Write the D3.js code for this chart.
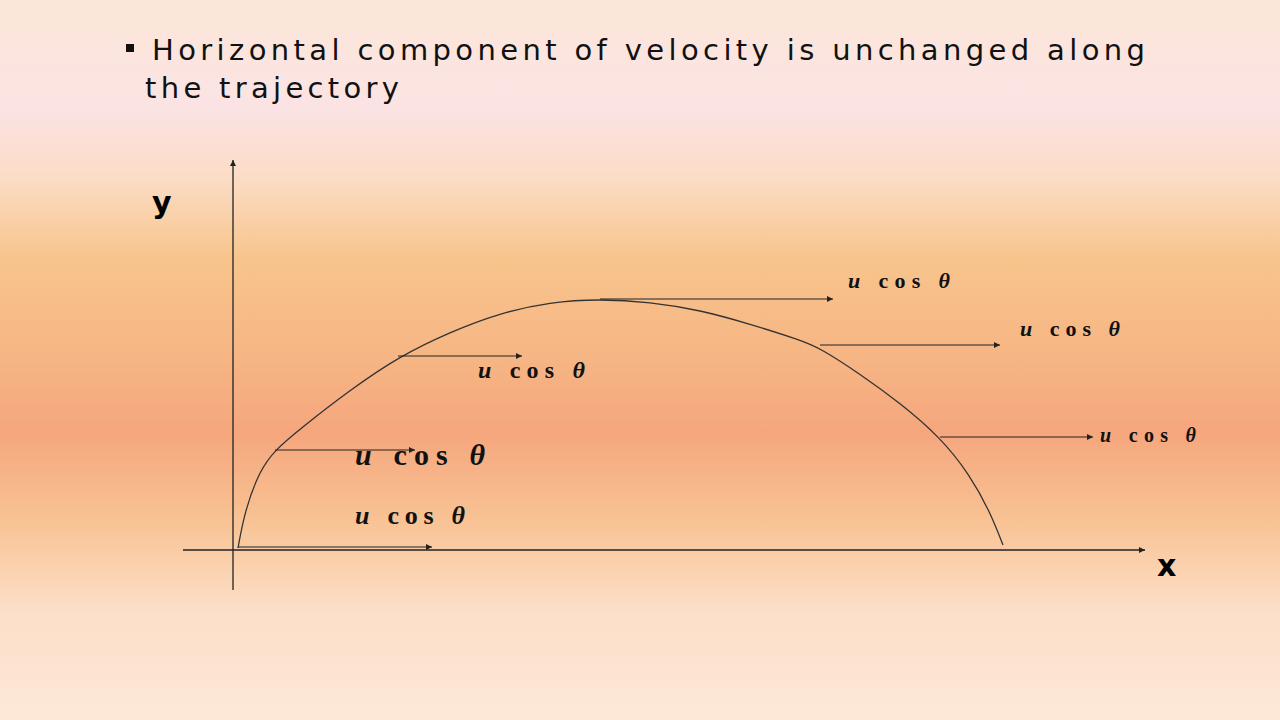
<!DOCTYPE html>
<html><head><meta charset="utf-8">
<script src="https://cdn.jsdelivr.net/npm/d3@7"></script>
<style>body{margin:0;overflow:hidden}</style>
</head><body>
<svg id="chart" width="1280" height="720"></svg>
<script>
// trajectory, in axis units (x right of origin, y above x axis)
var pathX = [5,12,27,42,67,117,167,217,267,317,367,417,467,517,567,587,627,667,707,737,757,770];
var pathY = [2,40,80,100,121,160,194,218,237,248,251,248,240,226,210,202,176,147,113,75,38,5];
// velocity arrows: start point and length
var arrowX = [5,42,165,367,587,707];
var arrowY = [3,100,194,251,205,113];
var arrowLen = [194,140,124,233,180,153];
// labels
var labelX = [122,122,245,615,787,867];
var labelY = [26,85,172,262,214,108];
var labelSize = [26,30,24,22,22,20];
var labelWidth = [110,130,107,102,100,96];
var stops = [
  [0,"#fbe7d8"],[0.15,"#fbe3e4"],[0.25,"#fbdcc4"],[0.36,"#f8c48c"],
  [0.5,"#f6b584"],[0.6,"#f5a67d"],[0.72,"#f8c293"],[0.85,"#fcdfc8"],[1,"#fde8d8"]
];

var svg = d3.select("#chart");
var defs = svg.append("defs");
var g = defs.append("linearGradient").attr("id","bg").attr("x1",0).attr("y1",0).attr("x2",0).attr("y2",1);
stops.forEach(function(s){ g.append("stop").attr("offset",s[0]).attr("stop-color",s[1]); });
defs.append("marker").attr("id","arr").attr("viewBox","0 0 10 10").attr("refX",10).attr("refY",5)
  .attr("markerWidth",8).attr("markerHeight",6).attr("markerUnits","userSpaceOnUse").attr("orient","auto")
  .append("path").attr("d","M0 0 L10 5 L0 10 z").attr("fill","#222");
svg.append("rect").attr("width",1280).attr("height",720).attr("fill","url(#bg)");

var x = d3.scaleLinear().domain([0,912]).range([233,1145]);
var y = d3.scaleLinear().domain([0,390]).range([550,160]);

// title
svg.append("rect").attr("x",126).attr("y",44).attr("width",8).attr("height",8).attr("fill","#111");
svg.append("text").attr("x",152).attr("y",60).attr("font-family","DejaVu Sans").attr("font-size",29)
  .attr("fill","#111").attr("textLength",993).attr("lengthAdjust","spacing")
  .text("Horizontal component of velocity is unchanged along");
svg.append("text").attr("x",145).attr("y",98).attr("font-family","DejaVu Sans").attr("font-size",29)
  .attr("fill","#111").attr("textLength",254).attr("lengthAdjust","spacing").text("the trajectory");

// axes
svg.append("line").attr("x1",x(0)).attr("y1",y(-40)).attr("x2",x(0)).attr("y2",y(390))
  .attr("stroke","#222").attr("stroke-width",1.3).attr("marker-end","url(#arr)");
svg.append("line").attr("x1",x(-50)).attr("y1",y(0)).attr("x2",x(912)).attr("y2",y(0))
  .attr("stroke","#222").attr("stroke-width",1.3).attr("marker-end","url(#arr)");
svg.append("text").attr("x",152).attr("y",213).attr("font-family","DejaVu Sans").attr("font-weight","bold")
  .attr("font-size",30).text("y");
svg.append("text").attr("x",1157).attr("y",576).attr("font-family","DejaVu Sans").attr("font-weight","bold")
  .attr("font-size",30).text("x");

// trajectory
var pts = pathX.map(function(d,i){ return [x(d), y(pathY[i])]; });
svg.append("path").attr("d", d3.line().curve(d3.curveBasis)(pts))
  .attr("fill","none").attr("stroke","#333").attr("stroke-width",1.3);

// arrows
svg.selectAll(".vel").data(arrowX).enter().append("line").attr("class","vel")
  .attr("x1",function(d){ return x(d); }).attr("y1",function(d,i){ return y(arrowY[i]); })
  .attr("x2",function(d,i){ return x(d+arrowLen[i]); }).attr("y2",function(d,i){ return y(arrowY[i]); })
  .attr("stroke","#222").attr("stroke-width",1.2).attr("marker-end","url(#arr)");

// labels
var lab = svg.selectAll(".lab").data(labelX).enter().append("text").attr("class","lab")
  .attr("x",function(d){ return x(d); }).attr("y",function(d,i){ return y(labelY[i]); })
  .attr("font-family","Liberation Serif").attr("font-weight","bold")
  .attr("font-size",function(d,i){ return labelSize[i]; }).attr("fill","#111")
  .attr("textLength",function(d,i){ return labelWidth[i]; }).attr("lengthAdjust","spacing");
lab.append("tspan").attr("font-style","italic").text("u");
lab.append("tspan").text(" cos ");
lab.append("tspan").attr("font-style","italic").text("θ");
</script>
</body></html>
